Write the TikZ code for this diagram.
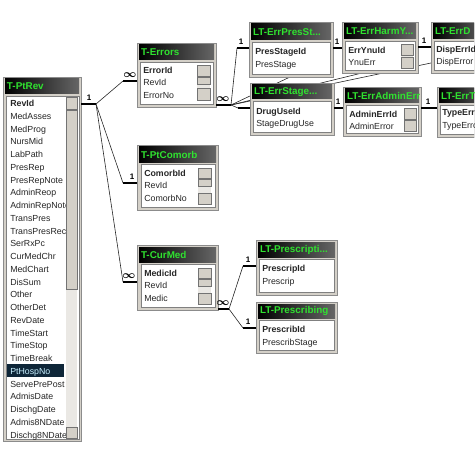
\documentclass[tikz,border=0pt]{standalone}
\usepackage{fontspec}
\setmainfont{Liberation Sans}
\usetikzlibrary{fit,shadows}
\definecolor{winface}{RGB}{212,208,200}
\definecolor{titlegreen}{RGB}{48,226,48}
\definecolor{selback}{RGB}{14,38,56}
\definecolor{selfore}{RGB}{200,240,255}
\definecolor{trackgray}{RGB}{234,232,228}
\tikzset{
    % Table parts
    tframe/.style={
        rectangle,
        fill=winface,
        draw=black!45,
        line width=0.5pt,
        inner sep=0pt,
        general shadow={fill=black!75, shadow xshift=1.1pt, shadow yshift=-1.1pt}
    },
    tbar/.style={
        rectangle,
        left color=black,
        right color=black!60,
        draw=none,
        inner sep=0pt
    },
    ttitle/.style={
        anchor=west,
        inner sep=0pt,
        xshift=1.5pt,
        text=titlegreen,
        font=\bfseries\fontsize{7.4}{8}\selectfont
    },
    tlist/.style={
        rectangle,
        fill=white,
        draw=black!50,
        line width=0.5pt,
        inner sep=0pt
    },
    % fields: placed at the baseline of the last row
    tfields/.style={
        anchor=base west,
        inner sep=0pt,
        align=left,
        text=black!85,
        font=\fontsize{6.6}{9.56}\selectfont
    },
    selrow/.style={
        rectangle,
        fill=selback,
        draw=none,
        inner sep=0pt
    },
    % Scroll bars
    track/.style={
        rectangle,
        fill=trackgray,
        draw=none,
        inner sep=0pt
    },
    sbtn/.style={
        rectangle,
        fill=winface,
        draw=black!55,
        line width=0.4pt,
        inner sep=0pt
    },
    sbup/.style={
        sbtn,
        path picture={\fill (path picture bounding box.center) ++(0,1.3pt) -- ++(-1.7pt,-2.3pt) -- ++(3.4pt,0) -- cycle;}
    },
    sbdown/.style={
        sbtn,
        path picture={\fill (path picture bounding box.center) ++(0,-1.3pt) -- ++(-1.7pt,2.3pt) -- ++(3.4pt,0) -- cycle;}
    },
    % Relationships
    rel/.style={
        draw=black!85,
        line width=0.45pt
    },
    relend/.style={
        draw=black,
        line width=1.6pt
    },
    cardone/.style={
        inner sep=0pt,
        font=\bfseries\fontsize{6}{6}\selectfont
    },
    cardinf/.style={
        inner sep=0pt,
        font=\fontsize{8}{8}\selectfont
    }
}

\begin{document}
\begin{tikzpicture}[x=0.75pt, y=-0.75pt]

    \useasboundingbox (0,0) rectangle (474,474);
    \clip (0,0) rectangle (474,474);

    % Relationship end points
    \coordinate (revone) at (96,104);
    \coordinate (errmanyL) at (123,81);
    \coordinate (comorbone) at (123,183);
    \coordinate (curmedmanyL) at (123,282);
    \coordinate (errmanyR) at (231,105);
    \coordinate (presone) at (237,48);
    \coordinate (presbot) at (290,77);
    \coordinate (harmbot) at (362,73);
    \coordinate (displeft) at (431,63);
    \coordinate (stageone) at (238,108);
    \coordinate (presharm) at (338,48);
    \coordinate (harmdisp) at (425,47);
    \coordinate (stageadmin) at (338,108);
    \coordinate (admintype) at (428,108);
    \coordinate (curmedmanyR) at (229,309);
    \coordinate (scripone) at (243,266);
    \coordinate (scribone) at (243,328);

    % Relationship lines
    \draw[rel] (revone) -- (errmanyL);
    \draw[rel] (revone) -- (comorbone);
    \draw[rel] (revone) -- (curmedmanyL);
    \draw[rel] (errmanyR) -- (presone);
    \draw[rel] (errmanyR) -- (presbot);
    \draw[rel] (errmanyR) -- (harmbot);
    \draw[rel] (errmanyR) -- (displeft);
    \draw[rel] (errmanyR) -- (stageone);
    \draw[rel] (curmedmanyR) -- (scripone);
    \draw[rel] (curmedmanyR) -- (scribone);

    % T-PtRev
    \node[tframe, fit={(3,77) (81,441)}] (ptrev) {};
    \node[tbar, fit={(5,79) (79,94)}] (ptrevbar) {};
    \node[ttitle] (ptrevtitle) at (ptrevbar.west) {T-PtRev};
    \node[tlist, fit={(6,96) (79,439)}] (ptrevlist) {};
    \node[selrow, fit={(7,364) (64,377)}] (ptrevsel) {};
    \begin{scope}
        \clip (ptrevlist.south west) rectangle (ptrevlist.north east);
        \node[tfields] (ptrevfields) at (10,438) {\textbf{RevId}\\MedAsses\\MedProg\\NursMid\\LabPath\\PresRep\\PresRepNote\\AdminReop\\AdminRepNote\\TransPres\\TransPresRec\\SerRxPc\\CurMedChr\\MedChart\\DisSum\\Other\\OtherDet\\RevDate\\TimeStart\\TimeStop\\TimeBreak\\\textcolor{selfore}{PtHospNo}\\ServePrePost\\AdmisDate\\DischgDate\\Admis8NDate\\Dischg8NDate};
    \end{scope}
    \node[track, fit={(66,97) (77,438)}] (ptrevtrack) {};
    \node[sbtn, fit={(66,110) (77,289)}] (ptrevthumb) {};
    \node[sbup, fit={(66,97) (77,109)}] (ptrevup) {};
    \node[sbdown, fit={(66,427) (77,438)}] (ptrevdown) {};

    % T-Errors
    \node[tframe, fit={(137,43) (216,107)}] (errors) {};
    \node[tbar, fit={(139,45) (214,60)}] (errorsbar) {};
    \node[ttitle] (errorstitle) at (errorsbar.west) {T-Errors};
    \node[tlist, fit={(140,62) (213,104)}] (errorslist) {};
    \node[tfields] (errorsfields) at (143,98.5) {\textbf{ErrorId}\\RevId\\ErrorNo};
    \node[track, fit={(197,65) (210,100)}] (errorstrack) {};
    \node[sbup, fit={(197,65) (210,76)}] (errorsup) {};
    \node[sbtn, fit={(197,77) (210,84)}] (errorsthumb) {};
    \node[sbdown, fit={(197,88) (210,100)}] (errorsdown) {};

    % T-PtComorb
    \node[tframe, fit={(137,145) (218,210)}] (comorb) {};
    \node[tbar, fit={(139,147) (216,162)}] (comorbbar) {};
    \node[ttitle] (comorbtitle) at (comorbbar.west) {T-PtComorb};
    \node[tlist, fit={(141,164) (215,207)}] (comorblist) {};
    \node[tfields] (comorbfields) at (144,201.5) {\textbf{ComorbId}\\RevId\\ComorbNo};
    \node[track, fit={(198,168) (211,204)}] (comorbtrack) {};
    \node[sbup, fit={(198,168) (211,178)}] (comorbup) {};
    \node[sbtn, fit={(198,179) (211,186)}] (comorbthumb) {};
    \node[sbdown, fit={(198,193) (211,204)}] (comorbdown) {};

    % T-CurMed
    \node[tframe, fit={(137,245) (218,310)}] (curmed) {};
    \node[tbar, fit={(139,247) (216,262)}] (curmedbar) {};
    \node[ttitle] (curmedtitle) at (curmedbar.west) {T-CurMed};
    \node[tlist, fit={(141,264) (215,307)}] (curmedlist) {};
    \node[tfields] (curmedfields) at (144,301.5) {\textbf{MedicId}\\RevId\\Medic};
    \node[track, fit={(198,268) (211,304)}] (curmedtrack) {};
    \node[sbup, fit={(198,268) (211,278)}] (curmedup) {};
    \node[sbtn, fit={(198,279) (211,286)}] (curmedthumb) {};
    \node[sbdown, fit={(198,293) (211,304)}] (curmeddown) {};

    % LT-ErrPresStage
    \node[tframe, fit={(249,22) (333,77)}] (errpres) {};
    \node[tbar, fit={(251,24) (331,40)}] (errpresbar) {};
    \node[ttitle] (errprestitle) at (errpresbar.west) {LT-ErrPresSt...};
    \node[tlist, fit={(252,42) (330,74)}] (errpreslist) {};
    \node[tfields] (errpresfields) at (255,67.5) {\textbf{PresStageId}\\PresStage};

    % LT-ErrStage
    \node[tframe, fit={(250,83) (334,135)}] (errstage) {};
    \node[tbar, fit={(252,85) (332,99)}] (errstagebar) {};
    \node[ttitle] (errstagetitle) at (errstagebar.west) {LT-ErrStage...};
    \node[tlist, fit={(253,101) (331,132)}] (errstagelist) {};
    \node[tfields] (errstagefields) at (256,127) {\textbf{DrugUseId}\\StageDrugUse};

    % LT-ErrHarmY
    \node[tframe, fit={(342,22) (418,73)}] (errharm) {};
    \node[tbar, fit={(344,24) (416,39)}] (errharmbar) {};
    \node[ttitle] (errharmtitle) at (errharmbar.west) {LT-ErrHarmY...};
    \node[tlist, fit={(345,41) (415,70)}] (errharmlist) {};
    \node[tfields] (errharmfields) at (348,66) {\textbf{ErrYnuId}\\YnuErr};
    \node[track, fit={(401,44) (413,68)}] (errharmtrack) {};
    \node[sbup, fit={(401,44) (413,55)}] (errharmup) {};
    \node[sbdown, fit={(401,57) (413,68)}] (errharmdown) {};

    % LT-ErrDisp
    \node[tframe, fit={(431,22) (490,73)}] (errdisp) {};
    \node[tbar, fit={(433,24) (488,39)}] (errdispbar) {};
    \node[ttitle] (errdisptitle) at (errdispbar.west) {LT-ErrD};
    \node[tlist, fit={(434,41) (487,70)}] (errdisplist) {};
    \node[tfields] (errdispfields) at (436,65) {\textbf{DispErrId}\\DispError};

    % LT-ErrAdminErr
    \node[tframe, fit={(343,87) (421,136)}] (erradmin) {};
    \node[tbar, fit={(345,89) (419,103)}] (erradminbar) {};
    \begin{scope}
        \clip (erradminbar.south west) rectangle (erradminbar.north east);
        \node[ttitle] (erradmintitle) at (erradminbar.west) {LT-ErrAdminErr};
    \end{scope}
    \node[tlist, fit={(346,105) (418,133)}] (erradminlist) {};
    \node[tfields] (erradminfields) at (349,130) {\textbf{AdminErrId}\\AdminError};
    \node[track, fit={(404,108) (416,131)}] (erradmintrack) {};
    \node[sbup, fit={(404,108) (416,119)}] (erradminup) {};
    \node[sbdown, fit={(404,120) (416,131)}] (erradmindown) {};

    % LT-ErrType
    \node[tframe, fit={(437,87) (495,137)}] (errtype) {};
    \node[tbar, fit={(439,89) (493,103)}] (errtypebar) {};
    \node[ttitle] (errtypetitle) at (errtypebar.west) {LT-ErrT};
    \node[tlist, fit={(440,105) (492,134)}] (errtypelist) {};
    \node[tfields] (errtypefields) at (442,128) {\textbf{TypeErrId}\\TypeError};

    % LT-Prescription
    \node[tframe, fit={(256,240) (337,295)}] (scrip) {};
    \node[tbar, fit={(258,242) (335,257)}] (scripbar) {};
    \node[ttitle] (scriptitle) at (scripbar.west) {LT-Prescripti...};
    \node[tlist, fit={(259,259) (334,292)}] (scriplist) {};
    \node[tfields] (scripfields) at (262,284.5) {\textbf{PrescripId}\\Prescrip};

    % LT-Prescribing
    \node[tframe, fit={(256,302) (337,353)}] (scrib) {};
    \node[tbar, fit={(258,304) (335,318)}] (scribbar) {};
    \node[ttitle] (scribtitle) at (scribbar.west) {LT-Prescribing};
    \node[tlist, fit={(259,320) (334,350)}] (scriblist) {};
    \node[tfields] (scribfields) at (262,345) {\textbf{PrescribId}\\PrescribStage};

    % Join ends
    \draw[relend] (ptrev.east |- revone) -- (revone);
    \node[cardone] (revonelbl) at (89,98) {1};
    \draw[relend] (errmanyL) -- (errors.west |- errmanyL);
    \node[cardinf] (errmanylbl) at (130,75) {{\boldmath$\infty$}};
    \draw[relend] (comorbone) -- (comorb.west |- comorbone);
    \node[cardone] (comorbonelbl) at (132,177) {1};
    \draw[relend] (curmedmanyL) -- (curmed.west |- curmedmanyL);
    \node[cardinf] (curmedmanylbl) at (129,276) {{\boldmath$\infty$}};
    \draw[relend] (errors.east |- errmanyR) -- (errmanyR);
    \node[cardinf] (errmanyrlbl) at (223,99) {{\boldmath$\infty$}};
    \draw[relend] (presone) -- (errpres.west |- presone);
    \node[cardone] (presonelbl) at (241,42) {1};
    \draw[relend] (stageone) -- (errstage.west |- stageone);
    \draw[relend] (errpres.east |- presharm) -- (errharm.west |- presharm);
    \node[cardone] (presharmlbl) at (337,42) {1};
    \draw[relend] (errharm.east |- harmdisp) -- (errdisp.west |- harmdisp);
    \node[cardone] (harmdisplbl) at (424,41) {1};
    \draw[relend] (errstage.east |- stageadmin) -- (erradmin.west |- stageadmin);
    \node[cardone] (stageadminlbl) at (338,102) {1};
    \draw[relend] (erradmin.east |- admintype) -- (errtype.west |- admintype);
    \node[cardone] (admintypelbl) at (428,102) {1};
    \draw[relend] (curmed.east |- curmedmanyR) -- (curmedmanyR);
    \node[cardinf] (curmedmanyrlbl) at (223,303) {{\boldmath$\infty$}};
    \draw[relend] (scripone) -- (scrip.west |- scripone);
    \node[cardone] (scriponelbl) at (248,260) {1};
    \draw[relend] (scribone) -- (scrib.west |- scribone);
    \node[cardone] (scribonelbl) at (248,322) {1};

\end{tikzpicture}
\end{document}
